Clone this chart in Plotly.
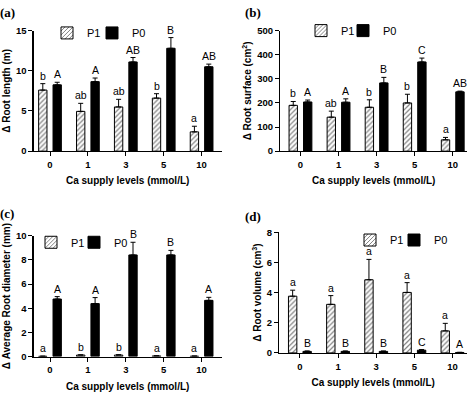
import plotly.graph_objects as go

categories = ["0", "1", "3", "5", "10"]

# (a) Root length (m)
a_p1 = [7.6, 4.95, 5.5, 6.6, 2.4]
a_p1_err = [0.8, 1.0, 0.95, 0.55, 0.7]
a_p0 = [8.25, 8.65, 11.1, 12.8, 10.5]
a_p0_err = [0.32, 0.45, 0.55, 1.33, 0.33]
a_p1_lbl = ["b", "ab", "ab", "b", "a"]
a_p0_lbl = ["A", "A", "AB", "B", "AB"]

# (b) Root surface (cm2)
b_p1 = [190, 141, 182, 200, 47]
b_p1_err = [16, 25, 31, 36, 10]
b_p0 = [204, 203, 283, 370, 246]
b_p0_err = [8, 14, 23, 16, 3]
b_p1_lbl = ["b", "ab", "b", "b", "a"]
b_p0_lbl = ["A", "A", "B", "C", "AB"]

# (c) Average root diameter (mm)
c_p1 = [0.02, 0.12, 0.12, 0.05, 0.03]
c_p1_err = [0.01, 0.02, 0.03, 0.01, 0.01]
c_p0 = [4.76, 4.38, 8.41, 8.41, 4.65]
c_p0_err = [0.2, 0.5, 1.05, 0.38, 0.25]
c_p1_lbl = ["a", "b", "b", "a", "a"]
c_p0_lbl = ["A", "A", "B", "B", "A"]

# (d) Root volume (cm3)
d_p1 = [3.76, 3.22, 4.85, 4.01, 1.46]
d_p1_err = [0.4, 0.58, 1.35, 0.65, 0.5]
d_p0 = [0.10, 0.10, 0.10, 0.18, 0.03]
d_p0_err = [0.03, 0.03, 0.03, 0.04, 0.01]
d_p1_lbl = ["a", "a", "a", "a", "a"]
d_p0_lbl = ["B", "B", "B", "C", "A"]

W, H = 474, 397
SANS = "Liberation Sans, Arial, sans-serif"
SERIF = "Liberation Serif, Times New Roman, serif"

panels = [
    dict(p1=a_p1, e1=a_p1_err, p0=a_p0, e0=a_p0_err, l1=a_p1_lbl, l0=a_p0_lbl,
         title="Δ Root length (m)", ymax=15, dtick=5, tag="(a)",
         xpx=(33.7, 221.7), ypx=(25.3, 149.3), xr=[-0.43, 4.53],
         leg1=(47, 27.7), leg0=(92, 27.7), tagpos=(-2, 7)),
    dict(p1=b_p1, e1=b_p1_err, p0=b_p0, e0=b_p0_err, l1=b_p1_lbl, l0=b_p0_lbl,
         title="Δ Root surface (cm<sup>2</sup>)", ymax=500, dtick=100, tag="(b)",
         xpx=(280.3, 467.2), ypx=(25.3, 149.3), xr=[-0.53, 4.38],
         leg1=(301, 25.3), leg0=(343, 25.3), tagpos=(243, 7)),
    dict(p1=c_p1, e1=c_p1_err, p0=c_p0, e0=c_p0_err, l1=c_p1_lbl, l0=c_p0_lbl,
         title="Δ Average Root diameter (mm)", ymax=10, dtick=2, tag="(c)",
         xpx=(33.7, 221.7), ypx=(236.3, 360.5), xr=[-0.43, 4.53],
         leg1=(31, 243), leg0=(74, 243), tagpos=(-2, 213)),
    dict(p1=d_p1, e1=d_p1_err, p0=d_p0, e0=d_p0_err, l1=d_p1_lbl, l0=d_p0_lbl,
         title="Δ Root volume (cm<sup>3</sup>)", ymax=8, dtick=2, tag="(d)",
         xpx=(279.3, 467.0), ypx=(232.7, 356.8), xr=[-0.54, 4.38],
         leg1=(350, 240.7), leg0=(394, 240.7), tagpos=(243, 216)),
]

BW = 0.22
OFF1, OFF0 = -0.30, 0.08

fig = go.Figure()
annotations = []
layout = {}


def legend_cfg(pos):
    lx, ly = pos
    return dict(
        x=lx / W, y=1 - ly / H, xanchor="left", yanchor="middle",
        orientation="h", font=dict(family=SANS, size=11, color="black"),
        bgcolor="rgba(0,0,0,0)", borderwidth=0,
    )


for k, p in enumerate(panels):
    n = "" if k == 0 else str(k + 1)
    xa, ya = "x" + n, "y" + n
    lg1 = "legend" + ("" if k == 0 else str(2 * k + 1))
    lg0 = "legend" + str(2 * k + 2)
    fig.add_trace(go.Bar(
        x=categories, y=p["p1"], name="P1", xaxis=xa, yaxis=ya, legend=lg1,
        width=BW, offset=OFF1,
        marker=dict(color="white", line=dict(color="black", width=1),
                    pattern=dict(shape="/", fgcolor="black", bgcolor="white",
                                 size=3.5, solidity=0.35)),
        error_y=dict(type="data", symmetric=False, array=p["e1"],
                     arrayminus=[0] * len(p["e1"]), color="black",
                     thickness=1, width=2.5),
    ))
    fig.add_trace(go.Bar(
        x=categories, y=p["p0"], name="P0", xaxis=xa, yaxis=ya, legend=lg0,
        width=BW, offset=OFF0,
        marker=dict(color="black", line=dict(color="black", width=1)),
        error_y=dict(type="data", symmetric=False, array=p["e0"],
                     arrayminus=[0] * len(p["e0"]), color="black",
                     thickness=1, width=2.5),
    ))
    x0, x1 = p["xpx"]
    yt, yb = p["ypx"]
    layout["xaxis" + n] = dict(
        domain=[x0 / W, x1 / W], anchor=ya, type="category",
        range=p["xr"], showline=True, linecolor="black", linewidth=1.3,
        ticks="outside", ticklen=4, tickwidth=1, tickcolor="black",
        tickfont=dict(family=SANS, size=9.5, color="black", weight="bold"),
        title=dict(text="Ca supply levels (mmol/L)", standoff=8,
                   font=dict(family=SANS, size=10, color="black", weight="bold")),
        showgrid=False, zeroline=False, fixedrange=True,
    )
    layout["yaxis" + n] = dict(
        domain=[1 - yb / H, 1 - yt / H], anchor=xa,
        range=[0, p["ymax"]], dtick=p["dtick"], tick0=0,
        showline=True, linecolor="black", linewidth=1.3,
        ticks="outside", ticklen=4, tickwidth=1, tickcolor="black",
        tickfont=dict(family=SANS, size=9.5, color="black", weight="bold"),
        title=dict(text=p["title"], standoff=3,
                   font=dict(family=SANS, size=10, color="black", weight="bold")),
        showgrid=False, zeroline=False, fixedrange=True,
    )
    layout[lg1] = legend_cfg(p["leg1"])
    layout[lg0] = legend_cfg(p["leg0"])
    # significance letters
    for i in range(len(categories)):
        for vals, errs, lbls, off in ((p["p1"], p["e1"], p["l1"], OFF1),
                                      (p["p0"], p["e0"], p["l0"], OFF0)):
            annotations.append(dict(
                x=i + off + BW / 2, y=vals[i] + errs[i], xref=xa, yref=ya,
                text=lbls[i], showarrow=False, yanchor="bottom", yshift=0,
                font=dict(family=SANS, size=10.5, color="black"),
            ))
    tx, ty = p["tagpos"]
    annotations.append(dict(
        x=tx / W, y=1 - ty / H, xref="paper", yref="paper", xanchor="left",
        yanchor="middle", text="<b>" + p["tag"] + "</b>", showarrow=False,
        font=dict(family=SERIF, size=13, color="black"),
    ))

fig.update_layout(
    width=W, height=H, margin=dict(l=0, r=0, t=0, b=0),
    paper_bgcolor="white", plot_bgcolor="white",
    barmode="overlay", showlegend=True,
    annotations=annotations, **layout,
)

fig.write_html(
    "out.html",
    config={"displayModeBar": False, "staticPlot": True},
    post_script="document.body.style.margin='0';document.body.style.overflow='hidden';",
)
